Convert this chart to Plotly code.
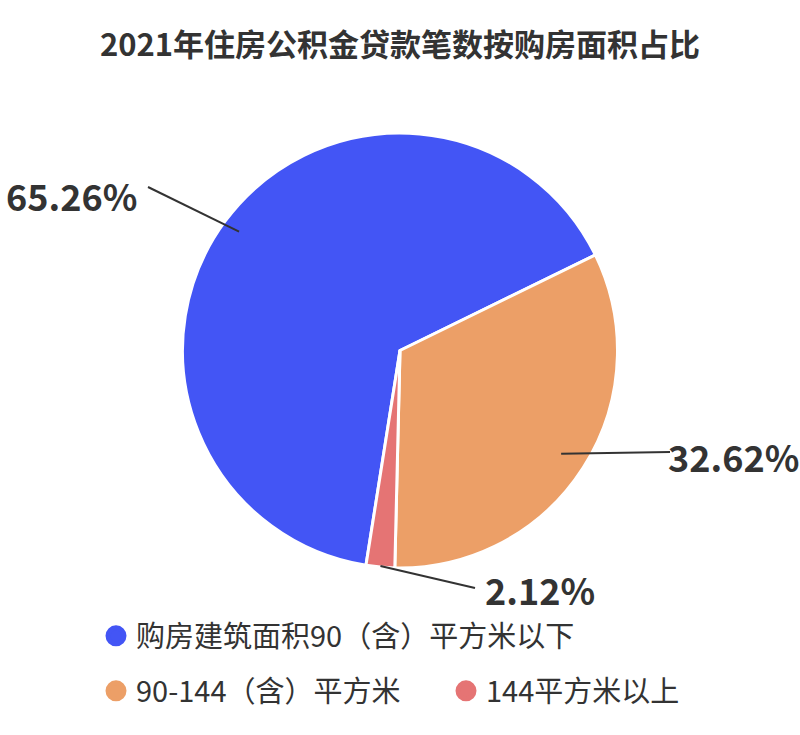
import math
import plotly.graph_objects as go

# ---- data ----
title_text = "2021年住房公积金贷款笔数按购房面积占比"
categories = ["购房建筑面积90（含）平方米以下", "90-144（含）平方米", "144平方米以上"]
shares = [65.26, 32.62, 2.12]
colors = ["#4355F5", "#EC9F67", "#E57474"]

# ---- layout constants (pixels) ----
W, H = 800, 735
CX, CY, R = 400, 350.5, 217.5
ROTATION = 189  # clock angle where first slice starts
FONT = "Noto Sans CJK SC, Noto Sans, sans-serif"
TXT = "#333333"

# label text centers, leader-line outer ends (pixels) and line start radius factors (style)
label_pos = [(71, 195), (733, 456), (540, 589)]
line_end = [(148, 187), (670, 452), (475, 588)]
line_r = [0.92, 0.88, 0.995]

fig = go.Figure()

fig.add_trace(go.Pie(
    labels=categories,
    values=shares,
    sort=False,
    direction="clockwise",
    rotation=ROTATION,
    marker=dict(colors=colors, line=dict(color="white", width=3)),
    textinfo="none",
    hoverinfo="label+percent",
    showlegend=False,
    domain=dict(x=[0, 1], y=[1 - (CY + R) / H, 1 - (CY - R) / H]),
))

# legend entries (circle markers)
for i, (cat, col) in enumerate(zip(categories, colors)):
    fig.add_trace(go.Scatter(
        x=[None], y=[None], mode="markers", name=cat,
        marker=dict(color=col, size=16, line=dict(color=col, width=5)),
        legend="legend" if i == 0 else "legend2",
        hoverinfo="skip",
    ))

# percentage labels with leader lines
total = sum(shares)
start = ROTATION
annotations = []
shapes = []
for i, v in enumerate(shares):
    span = v / total * 360
    mid = math.radians(start + span / 2)
    start += span
    r = R * line_r[i]
    px = CX + r * math.sin(mid)
    py = CY - r * math.cos(mid)
    ex, ey = line_end[i]
    shapes.append(dict(
        type="line", xref="paper", yref="paper",
        x0=px / W, y0=1 - py / H, x1=ex / W, y1=1 - ey / H,
        line=dict(color=TXT, width=2),
    ))
    lx, ly = label_pos[i]
    annotations.append(dict(
        x=lx / W, y=1 - ly / H, xref="paper", yref="paper",
        xanchor="center", yanchor="middle",
        text=f"<b>{v:.2f}%</b>", showarrow=False,
        font=dict(family=FONT, size=36, color=TXT),
    ))

fig.update_layout(
    width=W, height=H,
    margin=dict(l=0, r=0, t=0, b=0),
    paper_bgcolor="white", plot_bgcolor="white",
    title=dict(text=title_text, x=0.5, xanchor="center", y=1 - 45 / H, yanchor="middle",
               font=dict(family=FONT, size=31, color=TXT, weight=700)),
    xaxis=dict(visible=False), yaxis=dict(visible=False),
    annotations=annotations,
    shapes=shapes,
    legend=dict(orientation="h", x=0.12, xanchor="left", y=1 - 636 / H, yanchor="middle",
                font=dict(family=FONT, size=29, color=TXT), itemsizing="trace",
                bgcolor="rgba(0,0,0,0)"),
    legend2=dict(orientation="h", x=0.12, xanchor="left", y=1 - 691 / H, yanchor="middle",
                 font=dict(family=FONT, size=29, color=TXT), itemsizing="trace",
                 entrywidth=305, bgcolor="rgba(0,0,0,0)"),
)

fig.write_html("out.html")
